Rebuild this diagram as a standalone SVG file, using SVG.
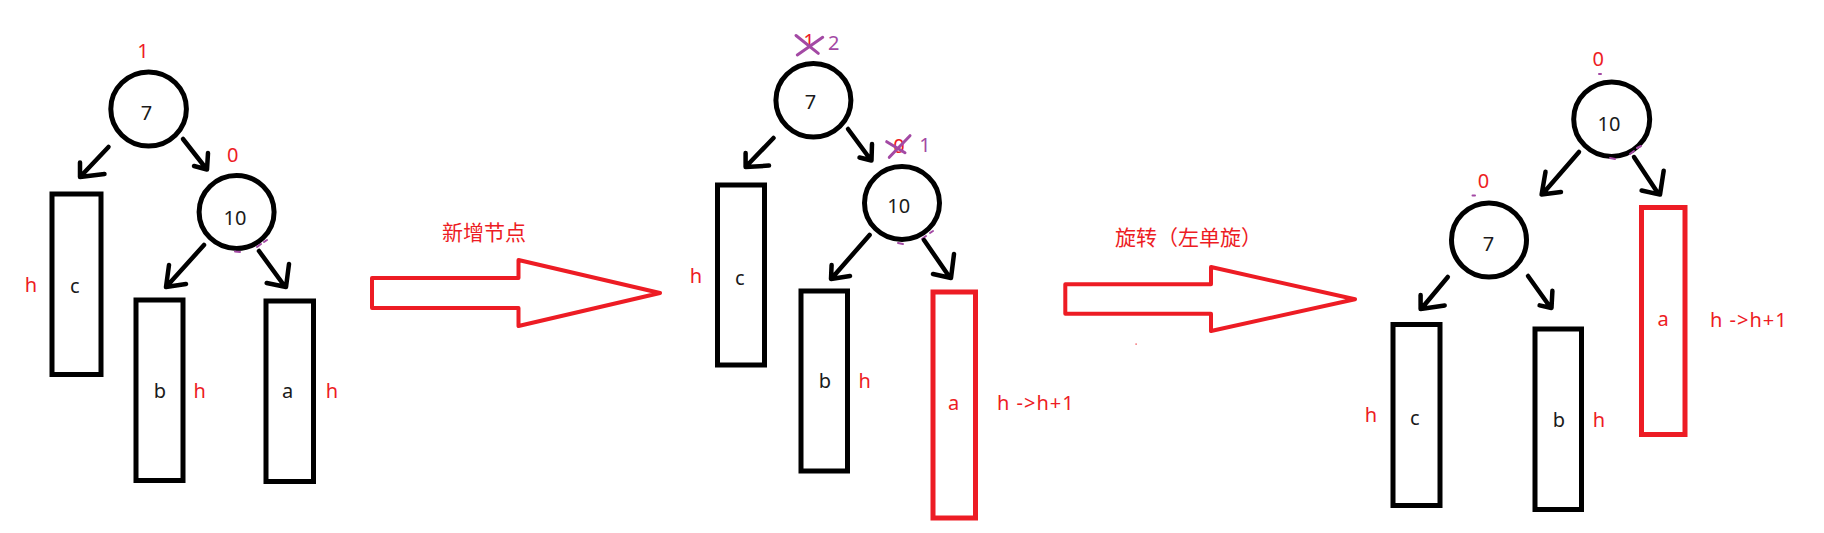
<svg xmlns="http://www.w3.org/2000/svg" width="1824" height="533" viewBox="0 0 1824 533">
<style>
.bg{fill:#ffffff}
.node{fill:none;stroke:#000;stroke-width:5}
.box{fill:none;stroke:#000;stroke-width:5}
.rbox{fill:none;stroke:#ED1C24;stroke-width:5}
.edge{fill:none;stroke:#000;stroke-width:4.5;stroke-linecap:round;stroke-linejoin:round}
.big{fill:none;stroke:#ED1C24;stroke-width:4;stroke-linejoin:round}
.x{fill:none;stroke:#A349A4;stroke-width:3;stroke-linecap:round}
.speck{fill:none;stroke:#A349A4;stroke-width:2;stroke-linecap:round}
.t{font-family:"Noto Sans","Noto Sans CJK SC",sans-serif;font-size:20px;text-anchor:middle;fill:#1a1a1a}
.r{font-family:"Noto Sans","Noto Sans CJK SC",sans-serif;font-size:20px;text-anchor:middle;fill:#ED1C24}
.rs{font-family:"Noto Sans","Noto Sans CJK SC",sans-serif;font-size:20px;text-anchor:start;fill:#ED1C24;letter-spacing:1px}
.p{font-family:"Noto Sans","Noto Sans CJK SC",sans-serif;font-size:20px;text-anchor:middle;fill:#A349A4}
.cn{font-family:"Noto Sans CJK SC","Noto Sans",sans-serif;font-size:21px;text-anchor:start;fill:#ED1C24}
</style>
<rect class="bg" x="0" y="0" width="1824" height="533"/>

<!-- Left tree -->
<g id="L-n7">
  <ellipse class="node" cx="148.6" cy="109" rx="37.8" ry="37"/>
  <text class="t" x="146.5" y="119.5">7</text>
  <text class="r" x="143" y="58">1</text>
</g>
<g id="L-n10">
  <ellipse class="node" cx="236.6" cy="212" rx="37.5" ry="36.5"/>
  <text class="t" x="235" y="224.5">10</text>
  <text class="r" x="232.7" y="161.7">0</text>
  <path class="speck" d="M235,251.5 L240,252 M257,247 L261,244 M264,242 L267,240"/>
</g>
<g id="L-c">
  <rect class="box" x="52" y="194" width="49" height="180.5"/>
  <text class="t" x="74.8" y="293">c</text>
  <text class="r" x="31" y="292">h</text>
</g>
<g id="L-b">
  <rect class="box" x="136" y="300" width="47" height="180.5"/>
  <text class="t" x="160" y="398">b</text>
  <text class="r" x="199.6" y="398">h</text>
</g>
<g id="L-a">
  <rect class="box" x="266" y="301" width="47.5" height="180.5"/>
  <text class="t" x="287.6" y="398">a</text>
  <text class="r" x="332" y="398">h</text>
</g>

<!-- Middle tree -->
<g id="M-n7">
  <ellipse class="node" cx="813.4" cy="100.3" rx="37.5" ry="36.8"/>
  <text class="t" x="810.5" y="109">7</text>
  <text class="r" x="809" y="48">1</text>
  <path class="x" d="M796,35.5 L818.3,53.3 M797.3,55 L822.7,37.3"/>
  <text class="p" x="833.7" y="50">2</text>
</g>
<g id="M-n10">
  <ellipse class="node" cx="902" cy="203" rx="37.5" ry="36.5"/>
  <text class="t" x="898.7" y="212.6">10</text>
  <text class="r" x="899" y="152.7">0</text>
  <path class="x" d="M886.7,141.7 L905,152.7 M889.3,157.3 L910,135.7"/>
  <text class="p" x="925" y="151.7">1</text>
  <path class="speck" d="M898,243 L903,244 M922,239 L926,236 M930,233 L933,231"/>
</g>
<g id="M-c">
  <rect class="box" x="717.5" y="185" width="47" height="180"/>
  <text class="t" x="739.8" y="285">c</text>
  <text class="r" x="696" y="283">h</text>
</g>
<g id="M-b">
  <rect class="box" x="801" y="291" width="46.5" height="180"/>
  <text class="t" x="825" y="388">b</text>
  <text class="r" x="864.6" y="388">h</text>
</g>
<g id="M-a">
  <rect class="rbox" x="933" y="292" width="42.5" height="226"/>
  <text class="r" x="953.7" y="410">a</text>
  <text class="rs" x="997" y="410">h -&gt;h+1</text>
</g>

<!-- Right tree -->
<g id="R-n10">
  <ellipse class="node" cx="1611.7" cy="119.2" rx="38" ry="37.3"/>
  <text class="t" x="1609" y="130.5">10</text>
  <text class="r" x="1598.3" y="66">0</text>
  <path class="speck" d="M1599,74 L1601,74 M1610,158 L1615,159 M1630,154 L1634,151 M1637,148 L1641,146"/>
</g>
<g id="R-n7">
  <ellipse class="node" cx="1489" cy="240" rx="37.5" ry="37"/>
  <text class="t" x="1488.5" y="251">7</text>
  <text class="r" x="1483.4" y="188">0</text>
  <path class="speck" d="M1472.5,195.6 L1475,195.6"/>
</g>
<g id="R-c">
  <rect class="box" x="1393" y="324.5" width="47" height="181"/>
  <text class="t" x="1414.8" y="424.5">c</text>
  <text class="r" x="1371" y="422">h</text>
</g>
<g id="R-b">
  <rect class="box" x="1535" y="329" width="46.5" height="180.5"/>
  <text class="t" x="1559" y="427">b</text>
  <text class="r" x="1599" y="427">h</text>
</g>
<g id="R-a">
  <rect class="rbox" x="1641.5" y="207.5" width="43.5" height="227"/>
  <text class="r" x="1663" y="326">a</text>
  <text class="rs" x="1710" y="326.5">h -&gt;h+1</text>
</g>

<!-- Transition arrows -->
<g id="step1">
  <path class="big" d="M372,278 L518.5,278 L518.5,260 L660,293 L518.5,326 L518.5,308 L372,308 Z"/>
  <text class="cn" x="442" y="240">新增节点</text>
</g>
<g id="step2">
  <path class="big" d="M1065.3,284.3 L1211,284.3 L1211,267 L1355,299.3 L1211,331 L1211,313.7 L1065.3,313.7 Z"/>
  <text class="cn" x="1115" y="245">旋转（左单旋）</text>
  <rect x="1135.5" y="343.5" width="1.2" height="1.2" fill="#ED1C24"/>
</g>

<!-- Connectors -->
<g id="connectors">
  <path class="edge" d="M108.5,147 L81,176 M80,162.5 L80,177 L104.5,174"/>
  <path class="edge" d="M183,139 L206.5,169 M208,153 L207,169.5 L194,166"/>
  <path class="edge" d="M204,245 L167,286 M169,265 L166,287 L186,284"/>
  <path class="edge" d="M259,251 L284.5,286 M289,264 L286,287 L266.7,283"/>

  <path class="edge" d="M773.5,138 L746.5,166 M745.6,153 L745.6,167 L769,165.6"/>
  <path class="edge" d="M848,129 L870.5,159.5 M872,144 L871.5,160.5 L859.5,157.5"/>
  <path class="edge" d="M869.6,235 L832,278 M831.6,265 L831,279 L850,276"/>
  <path class="edge" d="M924,240 L949.5,277 M954,254 L951,278 L933,274"/>

  <path class="edge" d="M1579,152 L1542.5,194 M1545.5,171.8 L1541.6,194.6 L1561,192"/>
  <path class="edge" d="M1634,157 L1658.5,194 M1663.7,170.7 L1660,194.6 L1641.6,190.5"/>
  <path class="edge" d="M1447.8,277 L1421.5,308.5 M1420.6,295 L1420.6,309 L1444.7,305.4"/>
  <path class="edge" d="M1528,276 L1550.5,307.5 M1552.4,290.8 L1551.5,308 L1539.6,305.4"/>
</g>
</svg>
